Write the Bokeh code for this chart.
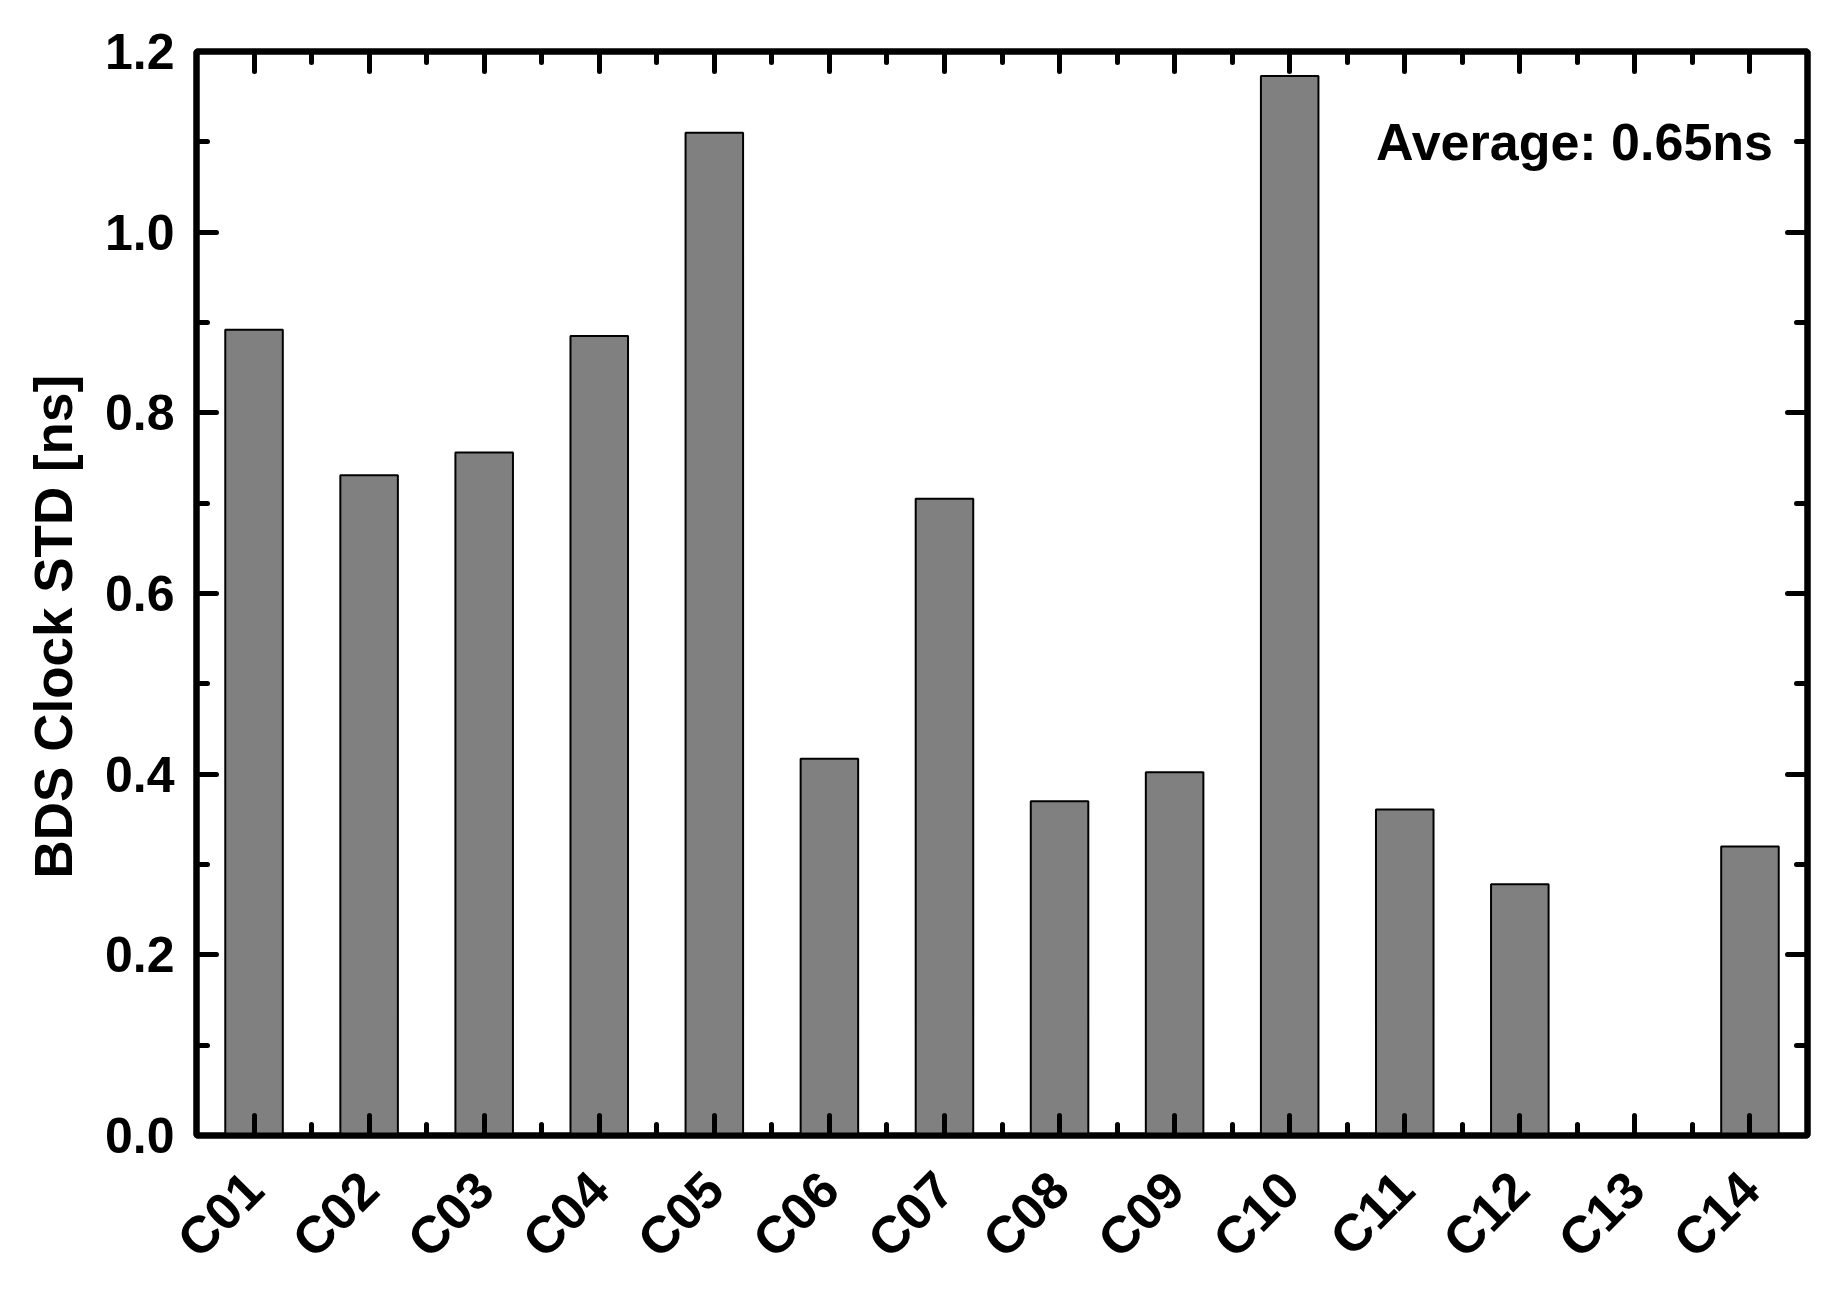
import math
from bokeh.plotting import figure
from bokeh.models import Range1d, FixedTicker, LinearAxis, Label, Title, ColumnDataSource
from bokeh.embed import file_html
from bokeh.resources import INLINE

# ---- data ----
categories = ["C01", "C02", "C03", "C04", "C05", "C06", "C07",
              "C08", "C09", "C10", "C11", "C12", "C13", "C14"]
std_ns = [0.892, 0.731, 0.756, 0.885, 1.110, 0.417, 0.705,
          0.370, 0.402, 1.173, 0.361, 0.278, None, 0.320]
y_ticks = [0.0, 0.2, 0.4, 0.6, 0.8, 1.0, 1.2]
y_tick_labels = ["0.0", "0.2", "0.4", "0.6", "0.8", "1.0", "1.2"]
y_minor_ticks = [0.1, 0.3, 0.5, 0.7, 0.9, 1.1]
y_title = "BDS Clock STD [ns]"
average_text = "Average: 0.65ns"

FONT = "Liberation Sans"

xs = [i + 1 for i, v in enumerate(std_ns) if v is not None]
tops = [v for v in std_ns if v is not None]
src = ColumnDataSource(dict(x=xs, top=tops))

p = figure(width=1832, height=1291,
           x_range=Range1d(0.5, len(categories) + 0.5),
           y_range=Range1d(0.0, 1.2),
           output_backend="svg", toolbar_location=None,
           min_border_left=196, min_border_right=25,
           min_border_top=51, min_border_bottom=156)
p.xgrid.visible = False
p.ygrid.visible = False
p.outline_line_color = "black"
p.outline_line_width = 6
p.background_fill_color = "white"
p.border_fill_color = "white"

p.vbar(x="x", top="top", bottom=0, width=0.5, source=src,
       fill_color="#808080", line_color="black", line_width=2)

x_ticker = FixedTicker(ticks=[i + 1 for i in range(len(categories))],
                       minor_ticks=[i + 1.5 for i in range(len(categories) - 1)])
y_ticker = FixedTicker(ticks=y_ticks, minor_ticks=y_minor_ticks)

top_axis = LinearAxis()
right_axis = LinearAxis()
p.add_layout(top_axis, "above")
p.add_layout(right_axis, "right")

def style_axis(ax, ticker):
    ax.ticker = ticker
    ax.axis_line_width = 6
    ax.axis_line_color = "black"
    ax.major_tick_in = 20
    ax.major_tick_out = 0
    ax.minor_tick_in = 11
    ax.minor_tick_out = 0
    ax.major_tick_line_width = 5
    ax.minor_tick_line_width = 5
    ax.major_tick_line_cap = "round"
    ax.minor_tick_line_cap = "round"
    ax.major_tick_line_color = "black"
    ax.minor_tick_line_color = "black"
    ax.major_label_text_font = FONT
    ax.major_label_text_font_style = "bold"
    ax.major_label_text_font_size = "50px"
    ax.major_label_text_color = "black"

for ax in p.xaxis:
    style_axis(ax, x_ticker)
for ax in p.yaxis:
    style_axis(ax, y_ticker)

bottom = p.below[0]
bottom.major_label_overrides = {i + 1: c for i, c in enumerate(categories)}
bottom.major_label_orientation = math.pi / 4
bottom.major_label_text_font_size = "52px"
bottom.major_label_standoff = 45

left = p.left[0]
left.major_label_overrides = {t: s for t, s in zip(y_ticks, y_tick_labels)}
left.major_label_standoff = 22

for ax in (top_axis, right_axis):
    ax.major_label_text_font_size = "1px"
    ax.major_label_text_color = None
    ax.major_label_standoff = 0

p.add_layout(Title(text=y_title, align="left", offset=257, standoff=38,
                   text_font=FONT, text_font_style="bold",
                   text_font_size="53px", text_color="black"), "left")

p.add_layout(Label(x=14.20, y=1.10, text=average_text,
                   text_align="right", text_baseline="alphabetic",
                   text_font=FONT, text_font_style="bold",
                   text_font_size="52px", text_color="black"))

open("out.html", "w").write(file_html(p, INLINE))
